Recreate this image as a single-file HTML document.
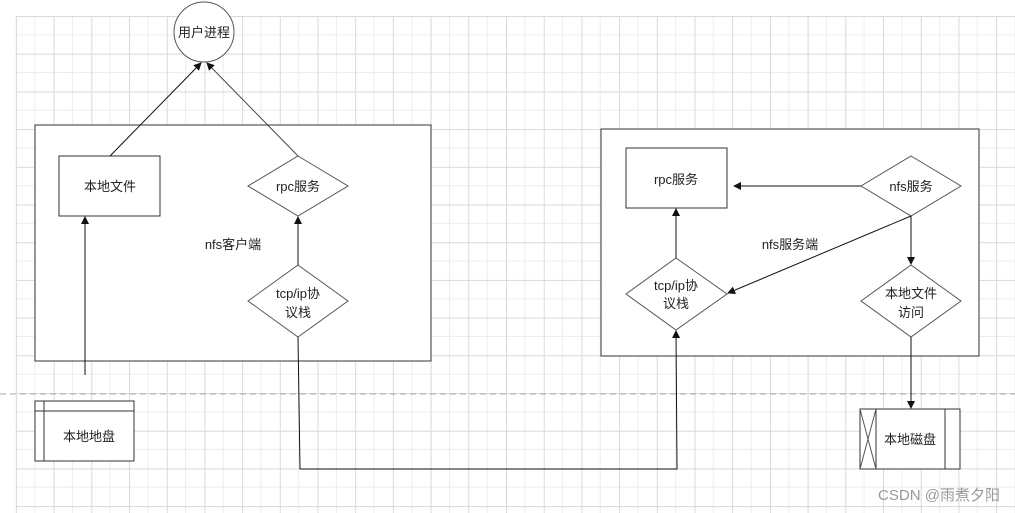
<!DOCTYPE html>
<html><head><meta charset="utf-8"><style>
html,body{margin:0;padding:0;background:#fff;}
svg{display:block;}
text{font-family:"Liberation Sans","Noto Sans CJK SC",sans-serif;font-size:13px;fill:#222;}
</style></head><body>
<svg width="1015" height="513" viewBox="0 0 1015 513" xmlns="http://www.w3.org/2000/svg">
<defs>
<pattern id="g" x="15.9" y="16" width="37.7" height="37.7" patternUnits="userSpaceOnUse">
<path d="M0 18.85H37.7M18.85 0V37.7" fill="none" stroke="#ededed" stroke-width="1"/>
<path d="M0 0.5H37.7M0.5 0V37.7" fill="none" stroke="#d9d9d9" stroke-width="1"/>
</pattern>
<marker id="a" markerWidth="8" markerHeight="8" refX="7" refY="4" orient="auto" markerUnits="userSpaceOnUse">
<path d="M0 0L8 4L0 8Z" fill="#111"/>
</marker>
</defs>
<rect x="15.4" y="15.5" width="1000" height="500" fill="url(#g)"/>
<line x1="0" y1="394" x2="1015" y2="394" stroke="#aaa" stroke-dasharray="6,4"/>
<g fill="#fff" stroke="#333" stroke-width="1">
<rect x="35" y="125" width="396" height="236"/>
<rect x="601" y="129" width="378" height="227"/>
<circle cx="204" cy="32" r="30" stroke="#555"/>
<rect x="59" y="156" width="101" height="60"/>
<polygon points="298,156 348,186 298,216 248,186" stroke="#555"/>
<polygon points="298,265 348,301 298,337 248,301" stroke="#555"/>
<rect x="35" y="401" width="99" height="60"/>
<line x1="44" y1="401" x2="44" y2="461"/>
<line x1="35" y1="411" x2="134" y2="411"/>
<rect x="626" y="148" width="101" height="60"/>
<polygon points="911,156 961,186 911,216 861,186" stroke="#555"/>
<polygon points="676,258 727,294 676,330 626,294" stroke="#555"/>
<polygon points="911,265 961,301 911,337 861,301" stroke="#555"/>
<rect x="860" y="409" width="100" height="60"/>
<line x1="876" y1="409" x2="876" y2="469"/>
<line x1="945" y1="409" x2="945" y2="469"/>
<path d="M860 409L876 469M876 409L860 469" stroke="#555"/>
</g>
<g fill="none" stroke="#111" stroke-width="1">
<line x1="110" y1="156" x2="201" y2="63" marker-end="url(#a)"/>
<line x1="298" y1="156" x2="207" y2="63" stroke="#444" marker-end="url(#a)"/>
<line x1="85" y1="375" x2="85" y2="217" marker-end="url(#a)"/>
<line x1="298" y1="265" x2="298" y2="217" marker-end="url(#a)"/>
<polyline points="298,337 300,469 677,469 676,331" marker-end="url(#a)"/>
<line x1="861" y1="186" x2="734" y2="186" marker-end="url(#a)"/>
<line x1="676" y1="258" x2="676" y2="209" marker-end="url(#a)"/>
<line x1="911" y1="216" x2="728" y2="293" marker-end="url(#a)"/>
<line x1="911" y1="216" x2="911" y2="264" marker-end="url(#a)"/>
<line x1="911" y1="337" x2="911" y2="408" marker-end="url(#a)"/>
</g>
<g text-anchor="middle">
<text x="204" y="37">用户进程</text>
<text x="110" y="191">本地文件</text>
<text x="298" y="191">rpc服务</text>
<text x="233" y="249">nfs客户端</text>
<text x="298" y="298">tcp/ip协</text>
<text x="298" y="317">议栈</text>
<text x="89" y="441">本地地盘</text>
<text x="676" y="184">rpc服务</text>
<text x="911" y="191">nfs服务</text>
<text x="790" y="249">nfs服务端</text>
<text x="676" y="290">tcp/ip协</text>
<text x="676" y="308">议栈</text>
<text x="911" y="298">本地文件</text>
<text x="911" y="317">访问</text>
<text x="910" y="444">本地磁盘</text>
<text x="939" y="500" style="font-size:15px;fill:#999">CSDN @雨煮夕阳</text>
</g>
</svg>
</body></html>
